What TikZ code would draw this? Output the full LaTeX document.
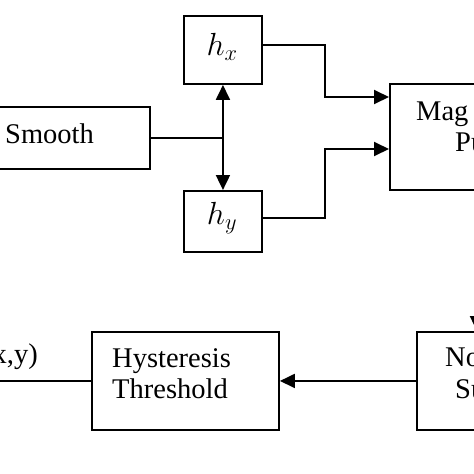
\RequirePackage{fix-cm}
\documentclass[tikz,border=0pt]{standalone}
\usepackage{fontspec}
\setmainfont{Liberation Serif}
\usetikzlibrary{arrows.meta}
\begin{document}
\begin{tikzpicture}[x=1pt,y=-1pt,
  box/.style={draw, line width=1.9pt, rectangle, inner sep=0pt, anchor=north west},
  lbl/.style={anchor=base west, inner sep=0pt, font=\fontsize{28.5}{31}\selectfont},
  mlbl/.style={inner sep=0pt, font=\fontsize{32}{34}\selectfont},
  conn/.style={line width=1.9pt},
  tip/.tip={Triangle[length=15pt,width=14pt]},
  arr/.style={conn, -tip},
]
\useasboundingbox (0,0) rectangle (474,474);
\clip (0,0) rectangle (474,474);
% boxes
\node[box, minimum width=170pt, minimum height=62pt] (smooth) at (-21,106) {};
\node[box, minimum width=78pt, minimum height=68pt] (hx) at (183,15) {};
\node[box, minimum width=78pt, minimum height=61pt] (hy) at (183,190) {};
\node[box, minimum width=174pt, minimum height=106pt] (mag) at (389,83) {};
\node[box, minimum width=187pt, minimum height=98pt] (hyst) at (91,331) {};
\node[box, minimum width=120pt, minimum height=98pt] (nms) at (416,331) {};
% texts
\node[lbl] (tsmooth) at (5,143) {Smooth};
\node[mlbl] (thx) at (222,47) {$h_x$};
\node[mlbl] (thy) at (222,218) {$h_y$};
\node[lbl] (tmag1) at (416,120) {Mag};
\node[lbl] (tmag2) at (455,151) {Pu};
\node[lbl] (thy1) at (112,367) {Hysteresis};
\node[lbl] (thy2) at (112,398) {Threshold};
\node[lbl] (tnms1) at (445,366) {No};
\node[lbl] (tnms2) at (455,398) {Su};
\node[lbl, anchor=base east] (tout) at (38,363) {(x,y)};
% connectors
\coordinate (out) at (-10,380);
\draw[conn] (smooth.east) -- (smooth.east -| hx.south);
\draw[conn, tip-tip] (hx.south) -- (hy.north);
\coordinate (m1) at (389,97);
\coordinate (m2) at (389,149);
\draw[arr] ([yshift=5pt]hx.east) -- ++(62,0) |- (m1);
\draw[arr] ([yshift=3.5pt]hy.east) -- ++(62,0) |- (m2);
\draw[arr] (mag.south) -- (nms.north);
\draw[arr] (nms.west) -- (hyst.east);
\draw[conn] (hyst.west) -- (hyst.west -| out);
\end{tikzpicture}
\end{document}
